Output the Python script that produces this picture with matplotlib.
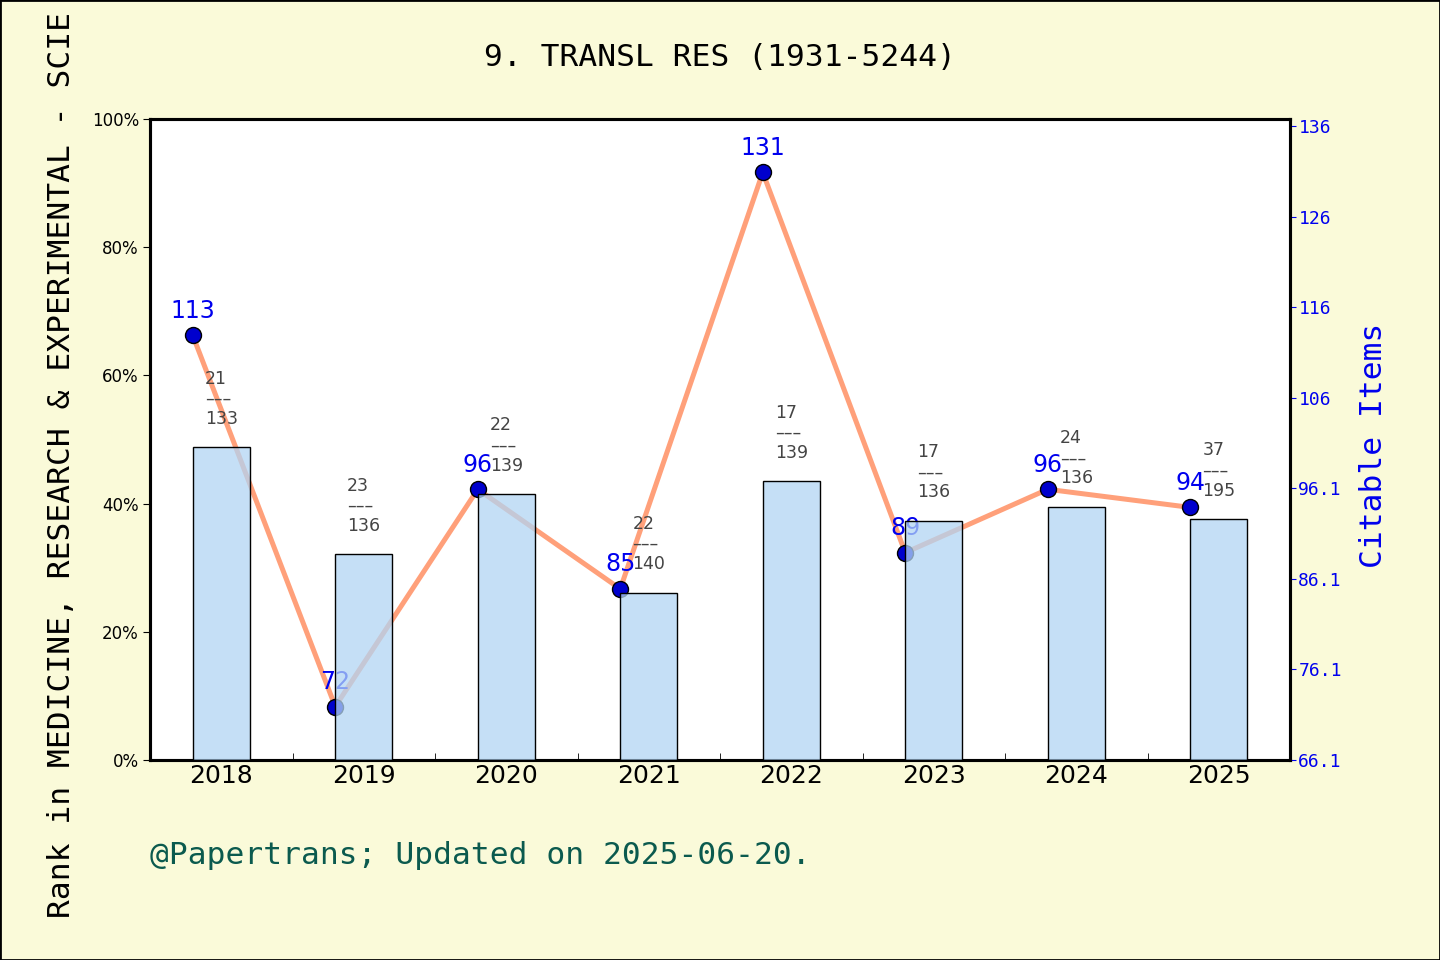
"""
Rank and citable items chart for TRANSL RES
"""

import matplotlib
matplotlib.use('Agg')
import matplotlib.pyplot as plt
import numpy as np

# data
years = ['2018', '2019', '2020', '2021', '2022', '2023', '2024', '2025']
rank_pct = [48.8, 32.1, 41.5, 26.1, 43.5, 37.3, 39.5, 37.6]
ranks = [21, 23, 22, 22, 17, 17, 24, 37]
totals = [133, 136, 139, 140, 139, 136, 136, 195]
citable = [113, 72, 96, 85, 131, 89, 96, 94]
right_ticks = [66.1, 76.1, 86.1, 96.1, 106.1, 116.1, 126.1, 136.1]

BG = '#FAFAD9'
MONO = 'DejaVu Sans Mono'
DASH = '\u2013' * 3

fig = plt.figure(figsize=(14.4, 9.6), dpi=100, facecolor=BG)
fig.patches.append(plt.Rectangle((0, 0), 1, 1, transform=fig.transFigure,
                                 fill=False, edgecolor='black', linewidth=2))

rect = [150 / 1440, 1 - 760 / 960, 1140 / 1440, 641 / 960]
ax_l = fig.add_axes(rect)
ax_l.set_facecolor('white')
ax_b = ax_l.twinx()

x = np.arange(len(years))

# line for citable items (drawn below the bars)
ax_l.plot(x - 0.2, citable, color='#FFA07A', linewidth=3.6, zorder=2,
          marker='o', markersize=11.5, markerfacecolor='#0000CD',
          markeredgecolor='black', markeredgewidth=1)
for xi, v in zip(x, citable):
    ax_l.annotate(str(v), (xi - 0.2, v), xytext=(0, 9), textcoords='offset points',
                  ha='center', va='bottom', color='#0000EE', fontsize=17,
                  family='DejaVu Sans')
ax_l.set_ylim(66.1, 136.9)
ax_l.set_yticks(right_ticks)
ax_l.set_yticklabels([f'{v:.3g}' for v in right_ticks], family=MONO,
                     fontsize=13, color='#0000EE')
ax_l.yaxis.tick_right()
ax_l.tick_params(axis='y', direction='out', length=4, color='#0000EE', pad=2)

# bars for rank percentage (on top)
ax_b.bar(x, rank_pct, width=0.4, facecolor=(0.698, 0.835, 0.957, 0.75),
         edgecolor='black', linewidth=1, zorder=3)
for xi, p, r, t in zip(x, rank_pct, ranks, totals):
    ax_b.annotate(f'{r}\n{DASH}\n{t}', (xi, p), xytext=(0, 14),
                  textcoords='offset points', ha='center', va='bottom',
                  multialignment='left', fontsize=12.5, color='#444444',
                  linespacing=1.15, family='DejaVu Sans')
ax_b.set_ylim(0, 100)
ax_b.set_yticks([0, 20, 40, 60, 80, 100])
ax_b.set_yticklabels(['0%', '20%', '40%', '60%', '80%', '100%'], fontsize=12)
ax_b.yaxis.tick_left()
ax_b.tick_params(axis='y', direction='out', length=5, pad=3)

ax_l.set_xlim(-0.5, 7.5)
ax_l.set_xticks(x)
ax_l.set_xticklabels(years, fontsize=18)
ax_l.set_xticks(x[:-1] + 0.5, minor=True)
ax_l.tick_params(axis='x', which='major', length=0, pad=3)
ax_l.tick_params(axis='x', which='minor', direction='in', length=5)

for a in (ax_l, ax_b):
    for s in a.spines.values():
        s.set_linewidth(2.2)

fig.text(0.5, 1 - 57 / 960, '9. TRANSL RES (1931-5244)', ha='center', va='center',
         family=MONO, fontsize=22.5)
fig.text(62 / 1440, 1 - 465 / 960, 'Rank in MEDICINE, RESEARCH & EXPERIMENTAL - SCIE',
         rotation=90, ha='center', va='center', family=MONO, fontsize=22.5)
fig.text(1373 / 1440, 1 - 445 / 960, 'Citable Items', rotation=90, ha='center',
         va='center', family=MONO, fontsize=22.5, color='#0000EE')
fig.text(150 / 1440, 1 - 855 / 960, '@Papertrans; Updated on 2025-06-20.',
         ha='left', va='center', family=MONO, fontsize=22.5, color='#0B5A4E')

fig.savefig('out.png', dpi=100, facecolor=BG)
